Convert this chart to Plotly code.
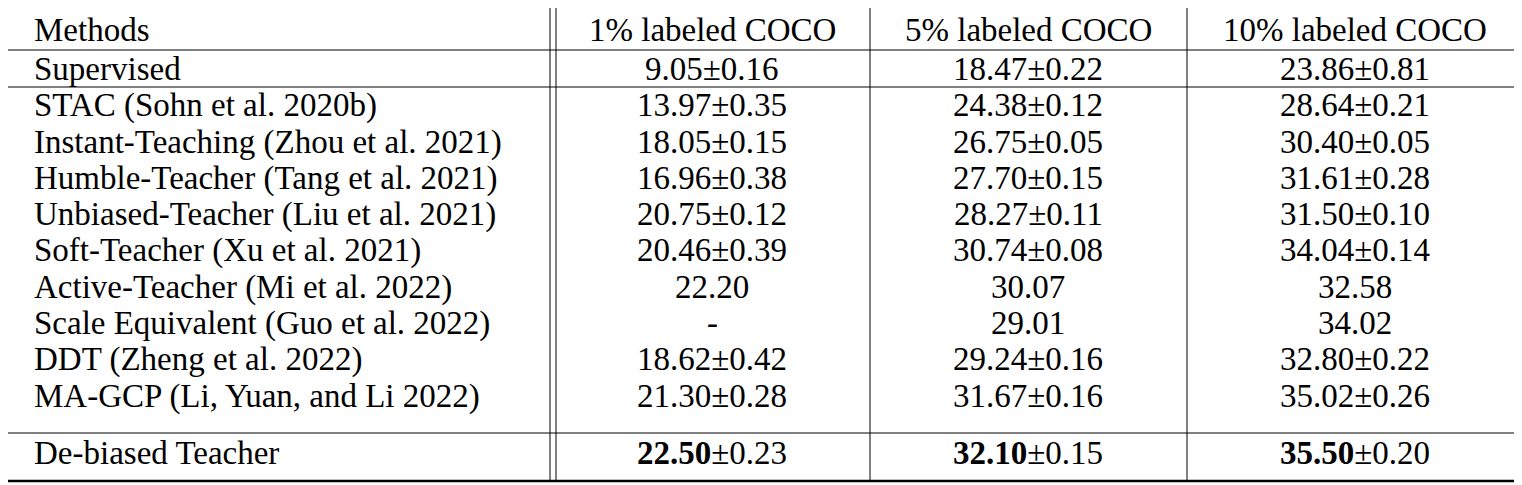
import plotly.graph_objects as go

header = ["Methods", "1% labeled COCO", "5% labeled COCO", "10% labeled COCO"]
methods = ["Supervised", "STAC (Sohn et al. 2020b)", "Instant-Teaching (Zhou et al. 2021)",
           "Humble-Teacher (Tang et al. 2021)", "Unbiased-Teacher (Liu et al. 2021)",
           "Soft-Teacher (Xu et al. 2021)", "Active-Teacher (Mi et al. 2022)",
           "Scale Equivalent (Guo et al. 2022)", "DDT (Zheng et al. 2022)",
           "MA-GCP (Li, Yuan, and Li 2022)", "De-biased Teacher"]
coco1 = ["9.05±0.16", "13.97±0.35", "18.05±0.15", "16.96±0.38", "20.75±0.12", "20.46±0.39",
         "22.20", "-", "18.62±0.42", "21.30±0.28", "<b>22.50</b>±0.23"]
coco5 = ["18.47±0.22", "24.38±0.12", "26.75±0.05", "27.70±0.15", "28.27±0.11", "30.74±0.08",
         "30.07", "29.01", "29.24±0.16", "31.67±0.16", "<b>32.10</b>±0.15"]
coco10 = ["23.86±0.81", "28.64±0.21", "30.40±0.05", "31.61±0.28", "31.50±0.10", "34.04±0.14",
          "32.58", "34.02", "32.80±0.22", "35.02±0.26", "<b>35.50</b>±0.20"]

row_y = [69, 105, 142, 178, 214, 250, 287, 323, 359, 396, 453]
header_y = 30
col_x = [32, 712, 1028, 1355]
font = dict(family="Liberation Serif", size=33, color="black")

fig = go.Figure()
fig.add_trace(go.Scatter(x=[8, 1522], y=[8, 485], mode="markers", marker=dict(opacity=0), hoverinfo="skip"))

anns = []
for j, h in enumerate(header):
    anns.append(dict(x=col_x[j], y=header_y, text=h, xanchor="left" if j == 0 else "center"))
for i, m in enumerate(methods):
    anns.append(dict(x=col_x[0], y=row_y[i], text=m, xanchor="left"))
    for j, col in enumerate([coco1, coco5, coco10]):
        anns.append(dict(x=col_x[j + 1], y=row_y[i], text=col[i], xanchor="center"))
for a in anns:
    a.update(xref="x", yref="y", showarrow=False, yanchor="middle", font=font)

shapes = []
def hl(y, w):
    shapes.append(dict(type="line", x0=8, x1=1516, y0=y, y1=y, xref="x", yref="y", line=dict(color="black", width=w)))
def vl(x, y0=3, y1=481):
    shapes.append(dict(type="line", x0=x, x1=x, y0=y0, y1=y1, xref="x", yref="y", line=dict(color="black", width=1)))
hl(3, 2.5); hl(50, 1); hl(87, 1); hl(433, 1); hl(481, 2.5)
for x in [550, 556, 870, 1187]:
    vl(x)

fig.update_layout(width=1522, height=485, margin=dict(l=0, r=0, t=0, b=0),
                  plot_bgcolor="white", paper_bgcolor="white", showlegend=False,
                  annotations=anns, shapes=shapes,
                  xaxis=dict(range=[8, 1530], visible=False, fixedrange=True),
                  yaxis=dict(range=[493, 8], visible=False, fixedrange=True))
fig.write_html("out.html")
